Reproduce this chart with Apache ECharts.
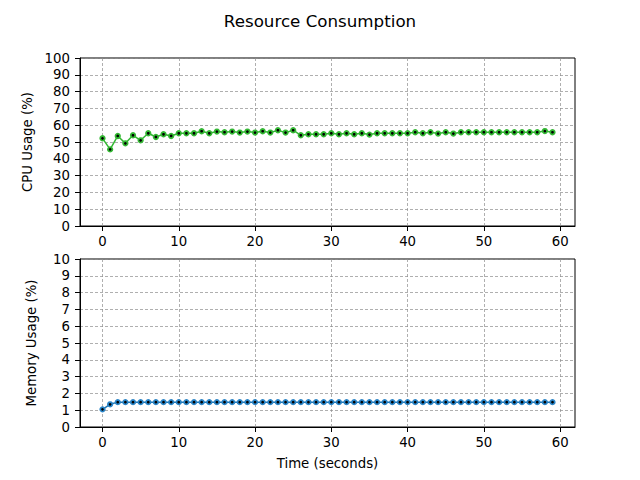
<!DOCTYPE html>
<html>
<head>
<meta charset="utf-8">
<script src="https://cdn.jsdelivr.net/npm/echarts@6/dist/echarts.min.js"></script>
<style>
  html, body { margin: 0; padding: 0; background: #fff; }
  #chart { width: 640px; height: 480px; }
</style>
</head>
<body>
<div id="chart"></div>
<script>
var timeSeconds = [
  0, 1, 2, 3, 4, 5, 6, 7, 8, 9,
  10, 11, 12, 13, 14, 15, 16, 17, 18, 19,
  20, 21, 22, 23, 24, 25, 26, 27, 28, 29,
  30, 31, 32, 33, 34, 35, 36, 37, 38, 39,
  40, 41, 42, 43, 44, 45, 46, 47, 48, 49,
  50, 51, 52, 53, 54, 55, 56, 57, 58, 59
];
var cpuUsage = [
  52.2, 45.6, 53.6, 49.2, 54.0, 51.0, 55.2, 53.0, 54.6, 53.6,
  55.2, 55.2, 55.2, 56.4, 55.2, 56.2, 55.8, 56.2, 55.6, 56.2,
  55.6, 56.4, 55.6, 57.0, 55.6, 57.0, 54.0, 54.6, 54.6, 54.6,
  55.2, 54.6, 55.2, 54.6, 55.2, 54.4, 55.2, 55.2, 55.2, 55.2,
  55.2, 55.8, 55.2, 55.8, 55.0, 55.8, 55.0, 55.8, 55.8, 55.8,
  55.8, 55.8, 55.8, 55.8, 55.8, 55.8, 55.8, 55.8, 56.5, 55.8
];
var memUsage = [
  1.05, 1.35, 1.48, 1.48, 1.48, 1.48, 1.48, 1.48, 1.48, 1.48,
  1.48, 1.48, 1.48, 1.48, 1.48, 1.48, 1.48, 1.48, 1.48, 1.48,
  1.48, 1.48, 1.48, 1.48, 1.48, 1.48, 1.48, 1.48, 1.48, 1.48,
  1.48, 1.48, 1.48, 1.48, 1.48, 1.48, 1.48, 1.48, 1.48, 1.48,
  1.48, 1.48, 1.48, 1.48, 1.48, 1.48, 1.48, 1.48, 1.48, 1.48,
  1.48, 1.48, 1.48, 1.48, 1.48, 1.48, 1.48, 1.48, 1.48, 1.48
];
var xTicks = [0, 10, 20, 30, 40, 50, 60];

var font = 'DejaVu Sans';
var ink = '#000';
var gridColor = '#8c8c8c';

function pairs(ys) {
  return timeSeconds.map(function(t, i) { return [t, ys[i]]; });
}

function xAxisFor(idx, withName) {
  return {
    type: 'value',
    gridIndex: idx,
    min: -2.95,
    max: 61.95,
    name: withName ? 'Time (seconds)' : '',
    nameLocation: 'middle',
    nameGap: 30,
    nameTextStyle: { color: ink, fontFamily: font, fontSize: 13.3 },
    axisLine: { show: true, onZero: false, lineStyle: { color: ink, width: 1 } },
    axisTick: { show: true, length: 5, customValues: xTicks, lineStyle: { color: ink } },
    axisLabel: { color: ink, fontFamily: font, fontSize: 13.3, margin: 9, customValues: xTicks },
    splitLine: { show: true, lineStyle: { color: gridColor, type: [3, 2], width: 0.7 } }
  };
}

function yAxisFor(idx, name, max, interval) {
  return {
    type: 'value',
    gridIndex: idx,
    min: 0,
    max: max,
    interval: interval,
    name: name,
    nameLocation: 'middle',
    nameGap: 42,
    nameTextStyle: { color: ink, fontFamily: font, fontSize: 13.3 },
    axisLine: { show: true, onZero: false, lineStyle: { color: ink, width: 1 } },
    axisTick: { show: true, length: 5, lineStyle: { color: ink } },
    axisLabel: { color: ink, fontFamily: font, fontSize: 13.3, margin: 10 },
    splitLine: { show: true, lineStyle: { color: gridColor, type: [3, 2], width: 0.7 } }
  };
}

var chart = echarts.init(document.getElementById('chart'), null, { renderer: 'svg' });
chart.setOption({
  animation: false,
  backgroundColor: '#fff',
  title: {
    text: 'Resource Consumption',
    left: 'center',
    top: 7,
    textStyle: { color: ink, fontFamily: font, fontSize: 16.7, fontWeight: 'normal' }
  },
  grid: [
    { left: 80, top: 58, width: 495, height: 168, show: true, borderColor: ink, borderWidth: 1, backgroundColor: 'transparent' },
    { left: 80, top: 259, width: 495, height: 168, show: true, borderColor: ink, borderWidth: 1, backgroundColor: 'transparent' }
  ],
  xAxis: [xAxisFor(0, false), xAxisFor(1, true)],
  yAxis: [yAxisFor(0, 'CPU Usage (%)', 100, 10), yAxisFor(1, 'Memory Usage (%)', 10, 1)],
  series: [
    {
      name: 'CPU',
      type: 'line',
      xAxisIndex: 0,
      yAxisIndex: 0,
      data: pairs(cpuUsage),
      symbol: 'circle',
      symbolSize: 4.5,
      showAllSymbol: true,
      lineStyle: { color: '#33b833', width: 1.5 },
      itemStyle: { color: '#000', borderColor: '#33b833', borderWidth: 1.8 }
    },
    {
      name: 'Memory',
      type: 'line',
      xAxisIndex: 1,
      yAxisIndex: 1,
      data: pairs(memUsage),
      symbol: 'circle',
      symbolSize: 4.5,
      showAllSymbol: true,
      lineStyle: { color: '#1f77b4', width: 1.5 },
      itemStyle: { color: '#000', borderColor: '#2a85c8', borderWidth: 1.8 }
    }
  ]
});
</script>
</body>
</html>
